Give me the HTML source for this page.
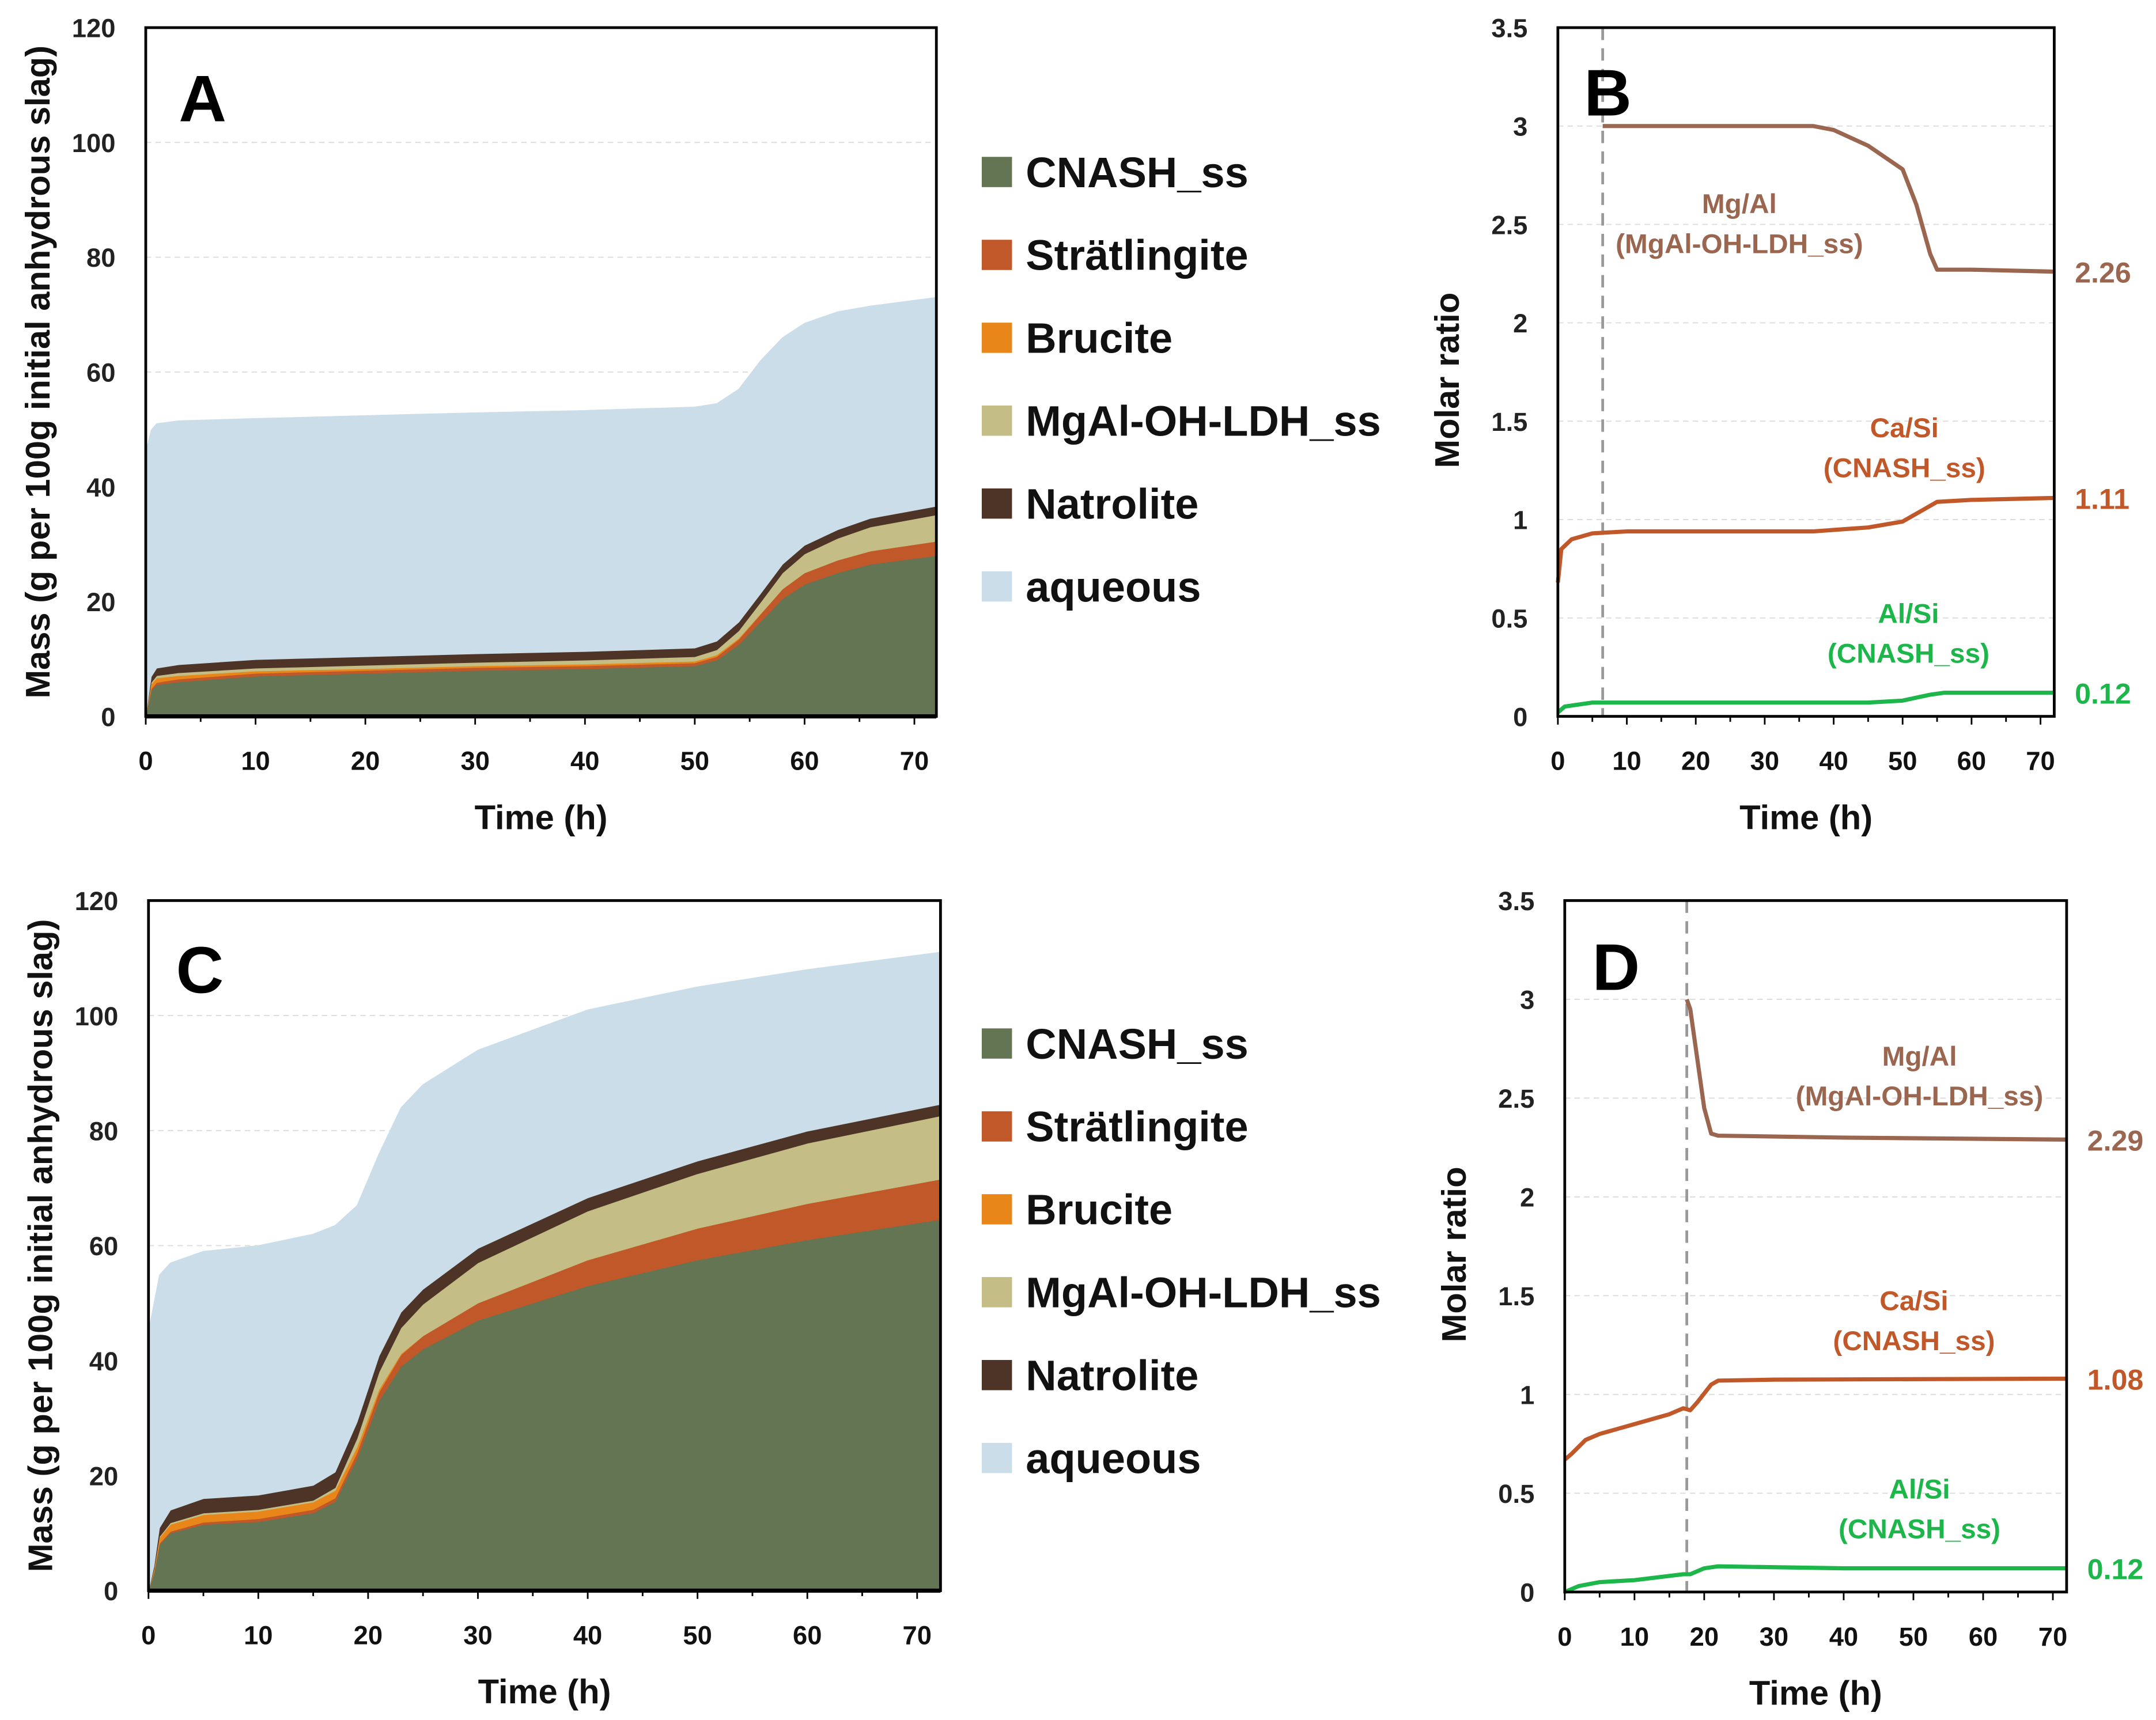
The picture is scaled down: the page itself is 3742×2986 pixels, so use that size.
<!DOCTYPE html>
<html><head><meta charset="utf-8">
<style>
html,body{margin:0;padding:0;background:#fff;}
svg{display:block;font-family:"Liberation Sans",Arial,sans-serif;}
</style></head>
<body>
<svg id="fig" width="3742" height="2986" viewBox="0 0 1568 1251" xmlns="http://www.w3.org/2000/svg"></svg>
<script>
// ---- Panel A data ----
const timeA = [0,0.5,1,3,10,20,30,40,50,52,54,56,58,60,63,66,72];
const cnashA = [0,4.5,5.5,6,7,7.5,8,8.3,8.8,9.8,12.5,16.5,20.5,23,25,26.5,28];
const stratA = [0,0.3,0.4,0.5,0.5,0.5,0.5,0.5,0.5,0.6,0.9,1.3,1.7,2,2.2,2.3,2.5];
const brucA = [0,0.8,0.8,0.6,0.4,0.3,0.3,0.3,0.3,0.3,0.2,0.1,0,0,0,0,0];
const ldhA = [0,0.3,0.4,0.5,0.5,0.6,0.6,0.7,0.8,0.9,1.3,2,2.8,3.3,3.8,4.2,4.6];
const natA = [0,1,1.3,1.4,1.5,1.5,1.5,1.5,1.5,1.5,1.5,1.5,1.5,1.5,1.5,1.5,1.5];
const aqA = [46,43,42.6,42.5,42,42,42,42,42,41.4,40.6,40.6,39.5,38.7,38,37,36.4];
// ---- Panel C data ----
const timeC = [0,0.5,1,2,5,10,15,17,19,21,23,25,30,40,50,60,72];
const cnashC = [0,3,8,10,11.5,12,13.5,15.5,23,33,39,42,47,53,57.5,61,64.5];
const stratC = [0,0.1,0.2,0.3,0.4,0.5,0.6,0.6,1,1.5,2,2.3,3,4.5,5.5,6.3,7];
const brucC = [0,0.5,1,1.2,1.3,1.3,1.3,1.3,1,0.5,0.2,0,0,0,0,0,0];
const ldhC = [0,0.1,0.2,0.3,0.3,0.3,0.3,0.5,1.5,3,4.5,5.5,7,8.5,9.5,10.5,11];
const natC = [0,0.5,1.5,2.2,2.5,2.5,2.6,2.7,2.8,2.8,2.7,2.6,2.5,2.3,2.2,2.1,2];
const aqC = [45,45.8,44,43,43,43.4,43.7,42.9,37.7,35.2,35.6,35.6,34.5,32.7,30.3,28.1,26.5];
// ---- Panel B data ----
const mgTimeB = [6.5,20,37,40,45,50,52,54,55,60,72];
const mgB = [3,3,3,2.98,2.9,2.78,2.6,2.35,2.27,2.27,2.26];
const caTimeB = [0,0.5,2,5,10,37,45,50,53,55,60,72];
const caB = [0.68,0.85,0.9,0.93,0.94,0.94,0.96,0.99,1.05,1.09,1.1,1.11];
const alTimeB = [0,1,5,10,45,50,54,56,72];
const alB = [0.02,0.05,0.07,0.07,0.07,0.08,0.11,0.12,0.12];
// ---- Panel D data ----
const mgTimeD = [17.5,18,19,20,21,22,40,72];
const mgD = [3,2.95,2.7,2.45,2.32,2.31,2.3,2.29];
const caTimeD = [0,1,3,5,10,15,17,18,19,21,22,30,72];
const caD = [0.67,0.7,0.77,0.8,0.85,0.9,0.93,0.92,0.96,1.05,1.07,1.075,1.08];
const alTimeD = [0,2,5,10,17,18,20,22,40,72];
const alD = [0,0.03,0.05,0.06,0.09,0.09,0.12,0.13,0.12,0.12];
const legendLabels = ["CNASH_ss","Strätlingite","Brucite","MgAl-OH-LDH_ss","Natrolite","aqueous"];
const massTicks = [0,20,40,60,80,100,120];
const ratioTicks = [0,0.5,1,1.5,2,2.5,3,3.5];
const timeTicks = [0,10,20,30,40,50,60,70];

const COLORS = ["#637552","#c0582a","#e8861a","#c4bd85","#4e3426","#cadde8"];
const NS = "http://www.w3.org/2000/svg";
const svg = document.getElementById('fig');
function el(tag, attrs, parent, text){
  const e = document.createElementNS(NS, tag);
  for (const k in attrs) e.setAttribute(k, attrs[k]);
  if (text !== undefined) e.textContent = text;
  (parent||svg).appendChild(e);
  return e;
}
function makeAxes(p){
  const sx = t => p.x0 + (t - 0) * (p.x70 - p.x0) / 70;
  const sy = v => p.yb - v * (p.yb - p.yt) / p.ymax;
  return {sx, sy};
}
function drawFrame(p, ax, yticks, fmt, name){
  const g = el('g', {});
  
  
  yticks.forEach(v => {
    if (v > 0 && v < p.ymax) {
      const l = el('line', {x1:p.x0, x2:p.xr, y1:ax.sy(v), y2:ax.sy(v), stroke:'#dcdcdc', 'stroke-width':0.8, 'stroke-dasharray':'4,3'}, g);
      
      
    }
    const t = el('text', {x:p.x0 - 22, y:ax.sy(v) + 7, 'text-anchor':'end', 'font-size':19, 'font-weight':'bold', fill:'#222'}, g, fmt(v));
    
    
  });
  timeTicks.forEach(v => {
    const t = el('text', {x:ax.sx(v), y:p.yb + 39, 'text-anchor':'middle', 'font-size':19, 'font-weight':'bold', fill:'#111'}, g, String(v));
    
    
  });
  for (let v = 0; v <= 70; v += 5) {
    el('line', {x1:ax.sx(v), x2:ax.sx(v), y1:p.yb, y2:p.yb + (v % 10 ? 4 : 6), stroke:'#000', 'stroke-width':1.2}, g);
  }
  return g;
}
function drawBox(p, name){
  const r = el('rect', {x:p.x0, y:p.yt, width:p.xr - p.x0, height:p.yb - p.yt, fill:'none', stroke:'#000', 'stroke-width':2});
  
  
  const t = el('text', {x:(p.x0 + p.xr) / 2, y:p.yb + 82, 'text-anchor':'middle', 'font-size':25, 'font-weight':'bold', fill:'#111'}, svg, 'Time (h)');
  
  
}
function stacked(p, times, layers, name){
  const ax = makeAxes(p);
  drawFrame(p, ax, massTicks, v => String(v), name);
  const cum = times.map(() => 0);
  const names = ['cnash','stratlingite','brucite','ldh','natrolite','aqueous'];
  layers.forEach((arr, li) => {
    const lower = cum.slice();
    arr.forEach((v, i) => cum[i] += v);
    let d = '';
    times.forEach((t, i) => d += (i ? 'L' : 'M') + ax.sx(t).toFixed(2) + ',' + ax.sy(cum[i]).toFixed(2));
    for (let i = times.length - 1; i >= 0; i--) d += 'L' + ax.sx(times[i]).toFixed(2) + ',' + ax.sy(lower[i]).toFixed(2);
    const path = el('path', {d: d + 'Z', fill: COLORS[li], stroke: COLORS[li], 'stroke-width':0.5});
    
    
  });
  const ymid = (p.yt + p.yb) / 2;
  const yt = el('text', {x:0, y:0, transform:'translate(' + (p.x0 - 70) + ',' + ymid + ') rotate(-90)', 'text-anchor':'middle', 'font-size':25, 'font-weight':'bold', fill:'#111'}, svg, 'Mass (g per 100g initial anhydrous slag)');
  
  
  el('line', {x1:p.x0, x2:p.xr, y1:p.yb, y2:p.yb, stroke:'#000', 'stroke-width':3});
  drawBox(p, name);
}
function legend(x, y0, name){
  const g = el('g', {});
  
  
  legendLabels.forEach((lab, i) => {
    const y = y0 + i * 60.3;
    const r = el('rect', {x:x, y:y - 11, width:22, height:22, fill:COLORS[i]}, g);
    
    
    const t = el('text', {x:x + 32, y:y + 11, 'font-size':31, 'font-weight':'bold', fill:'#111'}, g, lab);
    
    
  });
}
function ratioPanel(p, series, vline, labels, name){
  const ax = makeAxes(p);
  drawFrame(p, ax, ratioTicks, v => String(v), name);
  const dl = el('line', {x1:ax.sx(vline), x2:ax.sx(vline), y1:p.yt, y2:p.yb, stroke:'#999', 'stroke-width':2, 'stroke-dasharray':'9,6'});
  
  
  const names = ['mg-al','ca-si','al-si'];
  series.forEach((s, si) => {
    let d = '';
    s.t.forEach((t, i) => d += (i ? 'L' : 'M') + ax.sx(t).toFixed(2) + ',' + ax.sy(s.v[i]).toFixed(2));
    const path = el('path', {d:d, fill:'none', stroke:s.c, 'stroke-width':3, 'stroke-linejoin':'round'});
    
    
    const last = s.v[s.v.length - 1];
    const et = el('text', {x:p.xr + 15, y:ax.sy(last) + 8, 'font-size':21, 'font-weight':'bold', fill:s.c}, svg, last.toFixed(2));
    
    
  });
  labels.forEach(l => {
    const t1 = el('text', {x:l.x, y:l.y, 'text-anchor':'middle', 'font-size':20, 'font-weight':'bold', fill:l.c}, svg, l.a);
    
    
    const t2 = el('text', {x:l.x, y:l.y + 29, 'text-anchor':'middle', 'font-size':20, 'font-weight':'bold', fill:l.c}, svg, l.b);
    
    
  });
  const yt = el('text', {x:0, y:0, transform:'translate(' + (p.x0 - 72) + ',' + ((p.yt + p.yb) / 2 + 6) + ') rotate(-90)', 'text-anchor':'middle', 'font-size':25, 'font-weight':'bold', fill:'#111'}, svg, 'Molar ratio');
  
  
  drawBox(p, name);
}
function letter(x, y, s){
  const t = el('text', {x:x, y:y, 'font-size':48, 'font-weight':'bold', fill:'#000'}, svg, s);
  
  
}
const BROWN = '#9a6650', ORANGE = '#c0582a', GREEN = '#1db64b';
const pA = {x0:106, x70:665, xr:681, yt:20, yb:521, ymax:120};
const pC = {x0:108, x70:667, xr:684, yt:655, yb:1157, ymax:120};
const pB = {x0:1133, x70:1484, xr:1494, yt:20, yb:521, ymax:3.5};
const pD = {x0:1138, x70:1493, xr:1503, yt:655, yb:1158, ymax:3.5};
stacked(pA, timeA, [cnashA, stratA, brucA, ldhA, natA, aqA], 'panel-a');
stacked(pC, timeC, [cnashC, stratC, brucC, ldhC, natC, aqC], 'panel-c');
legend(714, 125, 'panel-a');
legend(714, 759, 'panel-c');
ratioPanel(pB, [{t:mgTimeB, v:mgB, c:BROWN},{t:caTimeB, v:caB, c:ORANGE},{t:alTimeB, v:alB, c:GREEN}], 6.5,
  [{x:1265, y:155, a:'Mg/Al', b:'(MgAl-OH-LDH_ss)', c:BROWN},{x:1385, y:318, a:'Ca/Si', b:'(CNASH_ss)', c:ORANGE},{x:1388, y:453, a:'Al/Si', b:'(CNASH_ss)', c:GREEN}], 'panel-b');
ratioPanel(pD, [{t:mgTimeD, v:mgD, c:BROWN},{t:caTimeD, v:caD, c:ORANGE},{t:alTimeD, v:alD, c:GREEN}], 17.5,
  [{x:1396, y:775, a:'Mg/Al', b:'(MgAl-OH-LDH_ss)', c:BROWN},{x:1392, y:953, a:'Ca/Si', b:'(CNASH_ss)', c:ORANGE},{x:1396, y:1090, a:'Al/Si', b:'(CNASH_ss)', c:GREEN}], 'panel-d');
letter(130, 88, 'A');
letter(1152, 84, 'B');
letter(128, 722, 'C');
letter(1158, 720, 'D');
</script>
</body></html>
